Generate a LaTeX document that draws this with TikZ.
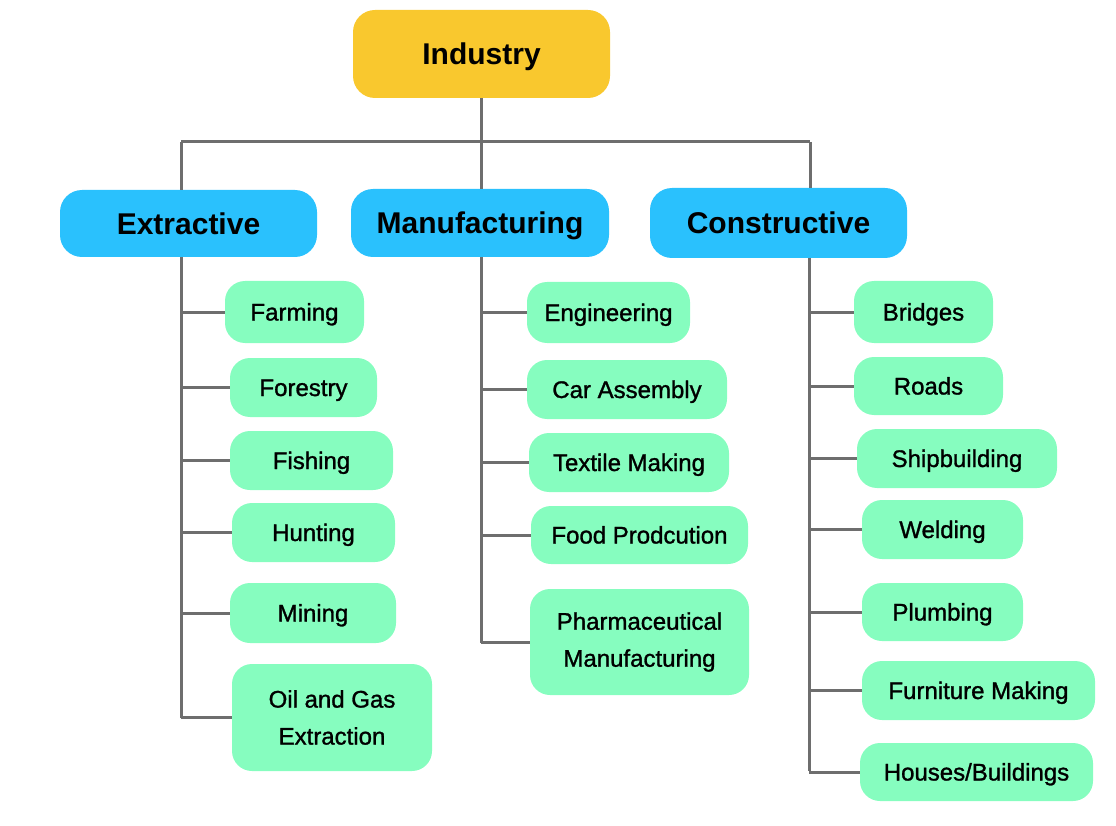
\documentclass[tikz,border=0pt]{standalone}
\usepackage{fontspec}
\setmainfont{Liberation Sans}
\newfontfamily\itemfont{Liberation Sans}[FakeBold=1.2]
\definecolor{topyel}{HTML}{F9C82E}
\definecolor{catblue}{HTML}{2AC1FD}
\definecolor{itemgreen}{HTML}{86FDBF}
\definecolor{linegray}{HTML}{6E6E6E}
\begin{document}
\begin{tikzpicture}[x=1pt,y=-1pt,
  topbox/.style={fill=topyel, rounded corners=22pt, inner sep=0pt, text height=22pt, text depth=0pt, font=\fontsize{30}{36}\selectfont\bfseries},
  catbox/.style={fill=catblue, rounded corners=22pt, inner sep=0pt, text height=22pt, text depth=0pt, font=\fontsize{30}{36}\selectfont\bfseries},
  itembox/.style={fill=itemgreen, rounded corners=20pt, inner sep=0pt, align=center, font=\fontsize{24}{37}\selectfont\itemfont},
  oneline/.style={itembox, text height=17pt, text depth=0pt},
  conn/.style={draw=linegray, line width=3pt}
]
\useasboundingbox (0,0) rectangle (1116,826);
% helper: box from corners
\newcommand{\mybox}[7]{\node[#1, minimum width={#4-#2}, minimum height={#5-#3}] (#6) at ({(#2+#4)/2},{(#3+#5)/2}) {#7};}

\mybox{topbox}{353}{10}{610}{98}{ind}{Industry}
\mybox{catbox}{60}{190}{317}{257}{ext}{Extractive}
\mybox{catbox}{351}{189}{609}{257}{man}{Manufacturing}
\mybox{catbox}{650}{188}{907}{258}{con}{Constructive}

% Extractive items
\mybox{oneline}{225}{281}{364}{343}{farm}{Farming}
\mybox{oneline}{230}{358}{377}{417}{fore}{Forestry}
\mybox{oneline}{230}{431}{393}{490}{fish}{Fishing}
\mybox{oneline}{232}{503}{395}{562}{hunt}{Hunting}
\mybox{oneline}{230}{583}{396}{643}{mine}{Mining}
\mybox{itembox}{232}{664}{432}{771}{oil}{Oil and Gas\\Extraction}

% Manufacturing items
\mybox{oneline}{527}{282}{690}{343}{eng}{Engineering}
\mybox{oneline}{527}{360}{727}{419}{car}{Car Assembly}
\mybox{oneline}{529}{433}{729}{492}{tex}{Textile Making}
\mybox{oneline}{531}{506}{748}{564}{food}{Food Prodcution}
\mybox{itembox}{530}{589}{749}{695}{pha}{Pharmaceutical\\Manufacturing}

% Constructive items
\mybox{oneline}{854}{281}{993}{343}{bri}{Bridges}
\mybox{oneline}{854}{357}{1003}{415}{road}{Roads}
\mybox{oneline}{857}{429}{1057}{488}{ship}{Shipbuilding}
\mybox{oneline}{862}{500}{1023}{559}{weld}{Welding}
\mybox{oneline}{862}{583}{1023}{641}{plum}{Plumbing}
\mybox{oneline}{862}{661}{1095}{720}{furn}{Furniture Making}
\mybox{oneline}{860}{743}{1093}{801}{hous}{Houses/Buildings}

% top connectors
\coordinate (hub) at (481,142);
\coordinate (hl) at (181,142);
\coordinate (hr) at (810,142);
\draw[conn] (ind.south -| hub) -- (hub);
\draw[conn] (hl) -- (hr);
\draw[conn] (hl) -- (hl |- ext.north);
\draw[conn] (hub) -- (hub |- man.north);
\draw[conn] (hr) -- (hr |- con.north);

% Extractive trunk
\coordinate (et) at (181,257);
\coordinate (eb) at (181,718);
\draw[conn] (et) -- (eb);
\foreach \n in {farm,fore,fish,hunt,mine,oil}
  \draw[conn] (et |- \n.west) -- (\n.west);

% Manufacturing trunk
\coordinate (mt) at (481,257);
\coordinate (mb) at (481,643);
\draw[conn] (mt) -- (mb);
\foreach \n in {eng,car,tex,food,pha}
  \draw[conn] (mt |- \n.west) -- (\n.west);

% Constructive trunk
\coordinate (ct) at (809,258);
\coordinate (cb) at (809,771);
\draw[conn] (ct) -- (cb);
\foreach \n in {bri,road,ship,weld,plum,furn,hous}
  \draw[conn] (ct |- \n.west) -- (\n.west);
\end{tikzpicture}
\end{document}
